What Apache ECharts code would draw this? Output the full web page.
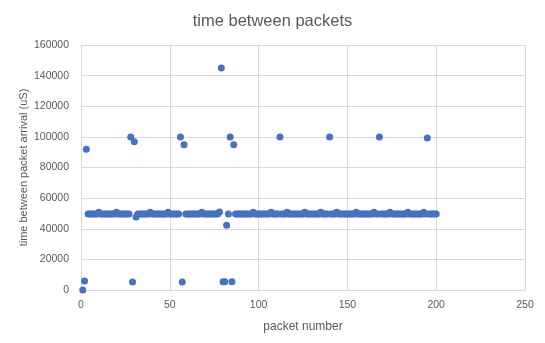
<!DOCTYPE html>
<html>
<head>
<meta charset="utf-8">
<script src="https://cdn.jsdelivr.net/npm/echarts@6/dist/echarts.min.js"></script>
<style>html,body{margin:0;padding:0;background:#fff}#c{width:545px;height:343px}</style>
</head>
<body>
<div id="c"></div>
<script>
const chartTitle = "time between packets";
const xAxisName = "packet number";
const yAxisName = "time between packet arrival (uS)";
const xTicks = [0, 50, 100, 150, 200, 250];
const yTicks = [0, 20000, 40000, 60000, 80000, 100000, 120000, 140000, 160000];
// time between packets (uS) for packets 1..200
const gapValues = [
  0, 5800, 92000, 49600, 49600, 49600, 49600, 49600, 49600, 50800,
  49600, 49600, 49600, 49600, 49600, 49600, 49600, 49600, 49600, 50800,
  49600, 49600, 49600, 49600, 49600, 49600, 49600, 100000, 5200, 96800,
  47600, 49600, 49600, 49600, 49600, 49600, 49600, 49600, 50800, 49600,
  49600, 49600, 49600, 49600, 49600, 49600, 49600, 49600, 50800, 49600,
  49600, 49600, 49600, 49600, 49600, 100000, 5200, 94800, 49600, 49600,
  49600, 49600, 49600, 49600, 49600, 49600, 49600, 50800, 49600, 49600,
  49600, 49600, 49600, 49600, 49600, 49600, 49600, 51000, 145000, 5400,
  5400, 42300, 49600, 100000, 5400, 94800, 49600, 49600, 49600, 49600,
  49600, 49600, 49600, 49600, 49600, 49600, 50800, 49600, 49600, 49600,
  49600, 49600, 49600, 49600, 49600, 49600, 50800, 49600, 49600, 49600,
  49600, 100000, 49600, 49600, 49600, 50800, 49600, 49600, 49600, 49600,
  49600, 49600, 49600, 49600, 49600, 50800, 49600, 49600, 49600, 49600,
  49600, 49600, 49600, 49600, 50800, 49600, 49600, 49600, 49600, 100000,
  49600, 49600, 49600, 50800, 49600, 49600, 49600, 49600, 49600, 49600,
  49600, 49600, 49600, 49600, 50800, 49600, 49600, 49600, 49600, 49600,
  49600, 49600, 49600, 49600, 50800, 49600, 49600, 100000, 49600, 49600,
  49600, 49600, 49600, 50800, 49600, 49600, 49600, 49600, 49600, 49600,
  49600, 49600, 49600, 50800, 49600, 49600, 49600, 49600, 49600, 49600,
  49600, 49600, 50800, 49600, 99200, 49600, 49600, 49600, 49600, 49600
];
const firstPacket = 1;
const points = gapValues.map((v, i) => [firstPacket + i, v]);

const font = "Liberation Sans";
const textColor = "#595959";
const gridColor = "#d9d9d9";
const chart = echarts.init(document.getElementById('c'), null, {renderer: 'canvas'});
chart.setOption({
  animation: false,
  backgroundColor: '#ffffff',
  title: {
    text: chartTitle, left: 'center', top: 8,
    textStyle: {fontFamily: font, fontSize: 16.5, fontWeight: 'normal', color: textColor}
  },
  grid: {left: 81, right: 20, top: 45, bottom: 53, containLabel: false},
  xAxis: {
    type: 'value', min: xTicks[0], max: xTicks[xTicks.length - 1], interval: 50,
    name: xAxisName, nameLocation: 'middle', nameGap: 31, nameMoveOverlap: false,
    nameTextStyle: {fontFamily: font, fontSize: 12, color: textColor},
    axisLine: {show: true, lineStyle: {color: gridColor, width: 1}},
    axisTick: {show: false},
    axisLabel: {fontFamily: font, fontSize: 10.5, color: textColor, margin: 10, formatter: v => String(v)},
    splitLine: {show: true, lineStyle: {color: gridColor, width: 1}}
  },
  yAxis: {
    type: 'value', min: yTicks[0], max: yTicks[yTicks.length - 1], interval: 20000,
    name: yAxisName, nameLocation: 'middle', nameGap: 52, nameRotate: 90, nameMoveOverlap: false,
    nameTextStyle: {fontFamily: font, fontSize: 11, color: textColor},
    axisLine: {show: true, lineStyle: {color: gridColor, width: 1}},
    axisTick: {show: false},
    axisLabel: {fontFamily: font, fontSize: 10.5, color: textColor, margin: 12, formatter: v => String(v)},
    splitLine: {show: true, lineStyle: {color: gridColor, width: 1}}
  },
  series: [{
    type: 'scatter',
    data: points,
    symbol: 'circle',
    symbolSize: 7,
    itemStyle: {color: '#4472c4', opacity: 1},
    emphasis: {disabled: true}
  }]
});
</script>
</body>
</html>
